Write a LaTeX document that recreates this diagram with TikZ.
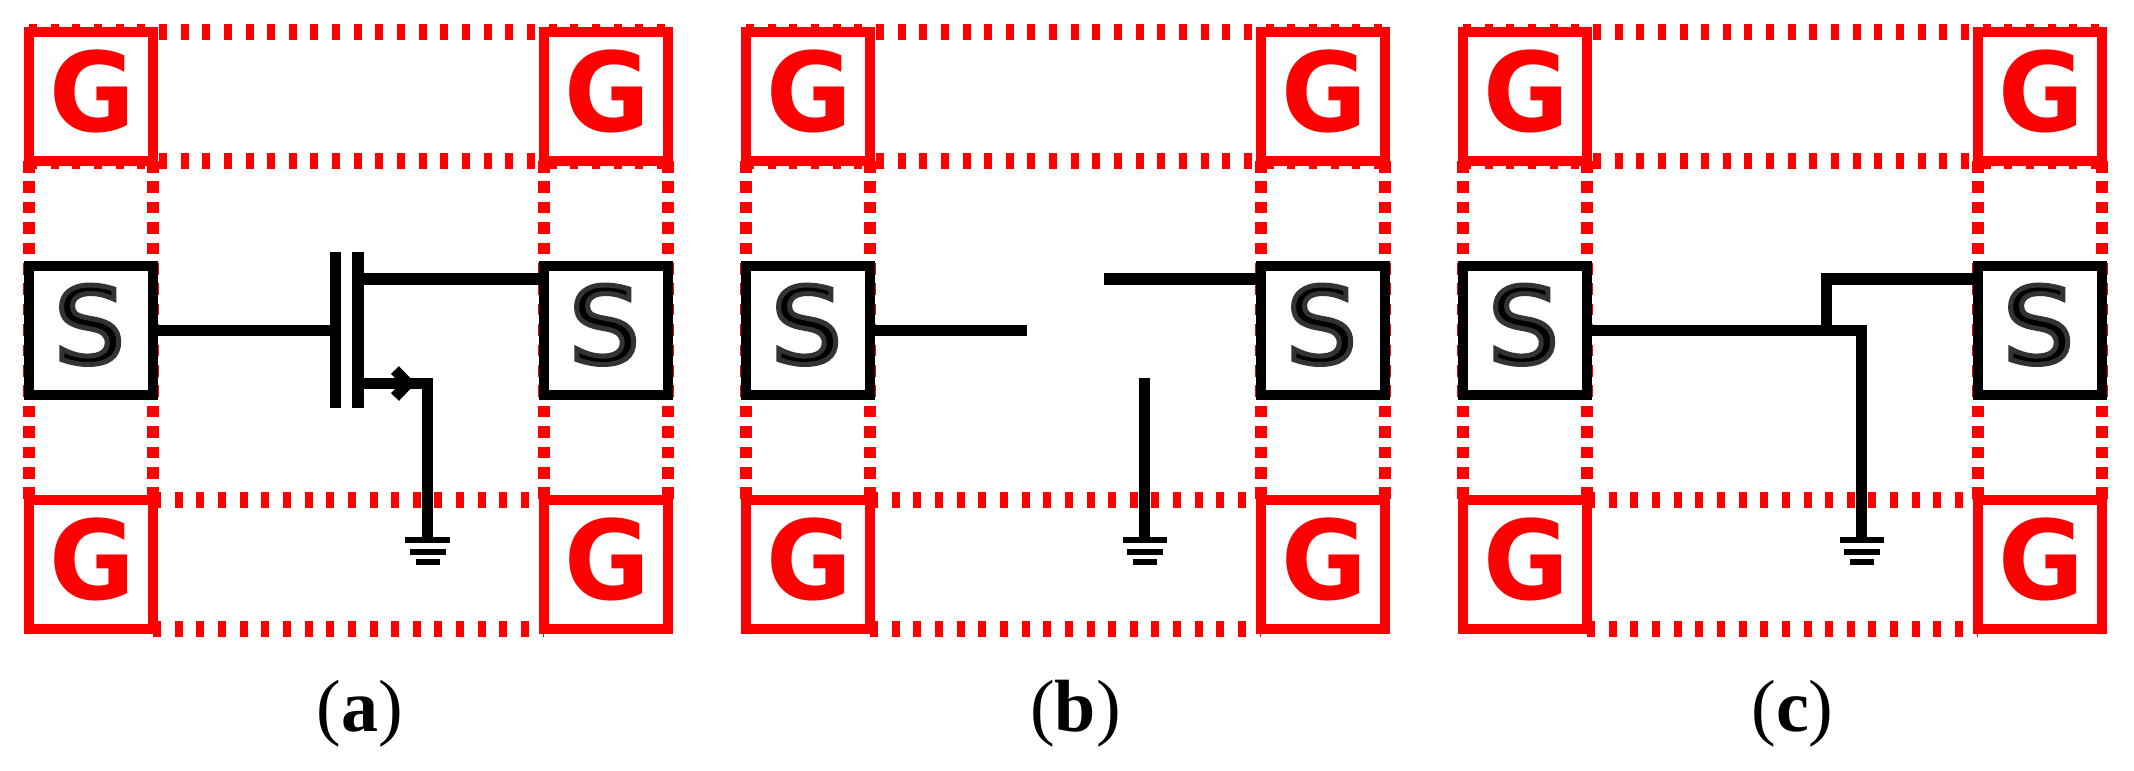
\documentclass[tikz,border=0pt]{standalone}
\usepackage{fontspec}
\setmainfont{Liberation Serif}
\newfontfamily\dejavug[FakeStretch=0.95]{DejaVu Sans Bold}
\newfontfamily\dejavus[FakeStretch=1.06]{DejaVu Sans}
\definecolor{gred}{RGB}{255,0,0}
\newcommand{\outlinedS}{\kern-2.9pt\special{pdf:code 2 Tr 5 w 0.2 G}S\special{pdf:code 0 Tr}}
\newcommand{\shiftedG}{\kern3.6pt G}
\tikzset{
  x=1pt,y=-1pt,
  gbox/.style={draw=gred,line width=10pt,fill=white,minimum width=124pt,minimum height=129pt,inner sep=0pt,text=gred,text height=70pt,text depth=0pt,font=\dejavug\fontsize{110}{110}\selectfont},
  sbox/.style={draw=black,line width=10pt,fill=white,minimum width=124pt,minimum height=129pt,inner sep=0pt,text=black,text height=66pt,text depth=0pt,font=\dejavus\fontsize{105}{105}\selectfont},
  hdots/.style={draw=gred,line width=16pt,dash pattern=on 8pt off 13.65pt},
  vdots/.style={draw=gred,line width=12pt,dash pattern=on 11.5pt off 8.9pt},
  wire/.style={draw=black,line width=11pt},
  plate/.style={draw=black,line width=11.5pt},
  gnd/.style={draw=black,line width=6pt},
  captext/.style={font=\fontsize{74}{74}\selectfont,anchor=base},
}
\newcommand{\panel}[2]{%
  \begin{scope}[xshift=#1pt]
    \coordinate (#2tl) at (29,32); \coordinate (#2tr) at (668,32);
    \coordinate (#2ul) at (29,161); \coordinate (#2ur) at (668,161);
    \coordinate (#2ml) at (153,500); \coordinate (#2mr) at (544,500);
    \coordinate (#2bl) at (153,629); \coordinate (#2br) at (544,629);
    \draw[hdots] (#2tl) -- (#2tr);
    \draw[hdots] (#2ul) -- (#2ur);
    \draw[hdots] (#2ml) -- (#2mr);
    \draw[hdots] (#2bl) -- (#2br);
    \foreach \xx in {29,153,544,668} \draw[vdots] (\xx,161) -- (\xx,500);
    \node[gbox] (#2g1) at (91,96.5) {\shiftedG};
    \node[gbox] (#2g2) at (606,96.5) {\shiftedG};
    \node[gbox] (#2g3) at (91,564.5) {\shiftedG};
    \node[gbox] (#2g4) at (606,564.5) {\shiftedG};
    \node[sbox] (#2s1) at (91,330) {\outlinedS};
    \node[sbox] (#2s2) at (606,330) {\outlinedS};
  \end{scope}}
\begin{document}
\begin{tikzpicture}
\useasboundingbox (0,0) rectangle (2134,771);
\panel{0}{a}
\panel{717}{b}
\panel{1434}{c}
% (a)
\coordinate (agl) at (335.5,330.6);
\draw[wire] (as1.east) ++(0,0.6) -- (agl);
\coordinate (agt) at (335.5,252); \coordinate (agb) at (335.5,408);
\draw[plate] (agt) -- (agb);
\coordinate (act) at (358,252); \coordinate (acb) at (358,408);
\draw[plate] (act) -- (acb);
\coordinate (ad) at (358,279);
\draw[wire,line width=12pt] (ad) -- (ad -| as2.west);
\coordinate (ab) at (358,383.5); \coordinate (ak) at (427.5,383.5); \coordinate (ae) at (427.5,537);
\draw[wire] (ab) -- (ak) -- (ae);
\coordinate (ah1) at (395,370); \coordinate (aht) at (408,383.5); \coordinate (ah2) at (395,397);
\draw[wire] (ah1) -- (aht) -- (ah2);
\draw[gnd] (405,540) -- (450,540);
\draw[gnd] (410,552) -- (446,552);
\draw[gnd] (416,562) -- (440,562);
\node[captext] (capa) at (359.5,731) {(\textbf{a})};
% (b)
\coordinate (bg) at (1027,330.6);
\draw[wire] (bs1.east) ++(0,0.6) -- (bg);
\coordinate (bd) at (1104,279);
\draw[wire,line width=12pt] (bd) -- (bd -| bs2.west);
\coordinate (bt) at (1144.5,378); \coordinate (be) at (1144.5,537);
\draw[wire] (bt) -- (be);
\draw[gnd] (1123,540) -- (1167,540);
\draw[gnd] (1127,552) -- (1163,552);
\draw[gnd] (1133,562) -- (1157,562);
\node[captext] (capb) at (1075.5,731) {(\textbf{b})};
% (c)
\coordinate (cj) at (1861.5,330.6); \coordinate (ce) at (1861.5,537);
\draw[wire] (cs1.east) ++(0,0.6) -- (cj) -- (ce);
\coordinate (cu) at (1826.5,330.6); \coordinate (cv) at (1826.5,279);
\draw[wire] (cu) -- (cv);
\draw[wire,line width=12pt] (cu |- cv) ++(-5.5,0) -- (cv -| cs2.west);
\draw[gnd] (1840,540) -- (1884,540);
\draw[gnd] (1844,552) -- (1880,552);
\draw[gnd] (1850,562) -- (1874,562);
\node[captext] (capc) at (1792.5,731) {(\textbf{c})};
\end{tikzpicture}
\end{document}
